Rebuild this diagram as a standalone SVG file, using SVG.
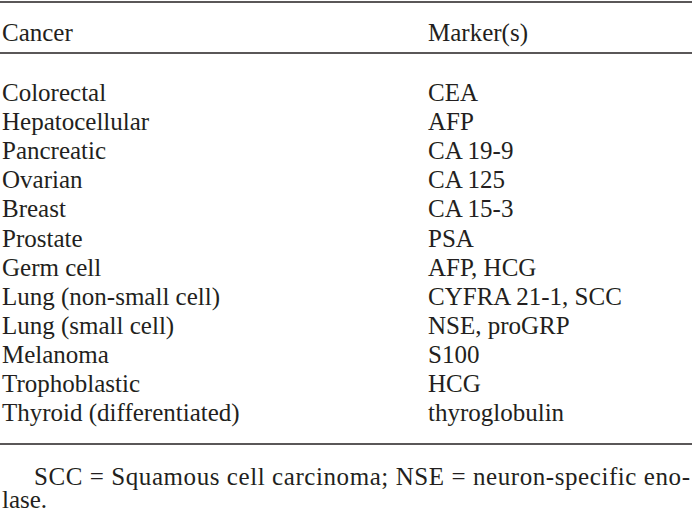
<svg xmlns="http://www.w3.org/2000/svg" width="692" height="512" viewBox="0 0 692 512">
<style>
text{font-family:"Liberation Serif","DejaVu Serif",serif;font-size:25px;fill:#231f20}
line{stroke:#231f20;stroke-width:1.5}
</style>
<rect width="692" height="512" fill="#fff"/>
<line x1="0" y1="2" x2="692" y2="2"/>
<line x1="0" y1="53" x2="692" y2="53"/>
<line x1="0" y1="444" x2="692" y2="444"/>
<g id="header"><text x="2" y="41">Cancer</text><text x="428" y="41">Marker(s)</text></g>
<g id="col1">
<text x="2" y="101">Colorectal</text>
<text x="2" y="130">Hepatocellular</text>
<text x="2" y="159">Pancreatic</text>
<text x="2" y="188">Ovarian</text>
<text x="2" y="217">Breast</text>
<text x="2" y="247">Prostate</text>
<text x="2" y="276">Germ cell</text>
<text x="2" y="305">Lung (non-small cell)</text>
<text x="2" y="334">Lung (small cell)</text>
<text x="2" y="363">Melanoma</text>
<text x="2" y="392">Trophoblastic</text>
<text x="2" y="421">Thyroid (differentiated)</text>
</g>
<g id="col2">
<text x="428" y="101">CEA</text>
<text x="428" y="130">AFP</text>
<text x="428" y="159">CA 19-9</text>
<text x="428" y="188">CA 125</text>
<text x="428" y="217">CA 15-3</text>
<text x="428" y="247">PSA</text>
<text x="428" y="276">AFP, HCG</text>
<text x="428" y="305">CYFRA 21-1, SCC</text>
<text x="428" y="334">NSE, proGRP</text>
<text x="428" y="363">S100</text>
<text x="428" y="392">HCG</text>
<text x="428" y="421">thyroglobulin</text>
</g>
<g id="footnote">
<text x="34" y="485" textLength="656" lengthAdjust="spacing">SCC = Squamous cell carcinoma; NSE = neuron-specific eno-</text>
<text x="2" y="508">lase.</text>
</g>
</svg>
